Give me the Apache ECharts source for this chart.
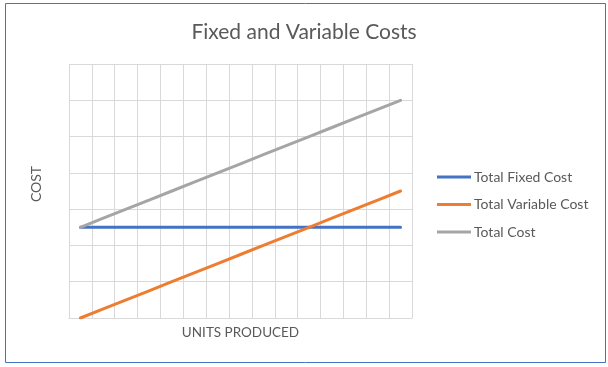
<!DOCTYPE html>
<html><head><meta charset="utf-8">
<script src="https://cdn.jsdelivr.net/npm/echarts@6/dist/echarts.min.js"></script>
<style>html,body{margin:0;padding:0;background:#fff}#c{width:608px;height:367px}</style>
</head><body><div id="c"></div>
<script>
const categories = ['1','2','3','4','5','6','7','8','9','10','11','12','13','14','15'];
const totalFixedCost = [2.5,2.5,2.5,2.5,2.5,2.5,2.5,2.5,2.5,2.5,2.5,2.5,2.5,2.5,2.5];
const totalVariableCost = [0,0.25,0.5,0.75,1,1.25,1.5,1.75,2,2.25,2.5,2.75,3,3.25,3.5];
const totalCost = [2.5,2.75,3,3.25,3.5,3.75,4,4.25,4.5,4.75,5,5.25,5.5,5.75,6];
const seriesNames = ['Total Fixed Cost','Total Variable Cost','Total Cost'];
const colors = ['#4472C4','#ED7D31','#A5A5A5'];
const font = 'Lato, "Open Sans", sans-serif';
const chart = echarts.init(document.getElementById('c'), null, {renderer:'canvas'});
const mk = (name, data, color) => ({
  name, type:'line', data, symbol:'none', smooth:false,
  lineStyle:{color, width:3, cap:'round'}, itemStyle:{color}
});
chart.setOption({
  animation:false,
  color: colors,
  title:{text:'Fixed and Variable Costs', left:'center', top:17,
    textStyle:{fontFamily:font, fontSize:21, fontWeight:'normal', color:'#595959'}},
  graphic:[{type:'rect', shape:{x:5.5,y:3.5,width:600,height:359},
    style:{fill:'none', stroke:'#4472C4', lineWidth:1}}],
  legend:{orient:'vertical', left:437, top:170, padding:0, icon:'rect', itemWidth:34, itemHeight:3,
    itemGap:13.5,
    textStyle:{fontFamily:font, fontSize:14, color:'#595959', padding:[0,0,0,-2]},
    data:seriesNames},
  grid:{left:69, right:196, top:64, bottom:49},
  xAxis:{type:'category', data:categories, boundaryGap:true,
    name:'UNITS PRODUCED', nameLocation:'middle', nameGap:8,
    nameTextStyle:{fontFamily:font, fontSize:13.5, color:'#595959'},
    axisLine:{show:true, lineStyle:{color:'#D9D9D9'}}, axisTick:{show:false}, axisLabel:{show:false},
    splitLine:{show:true, lineStyle:{color:'#D9D9D9', width:1}}},
  yAxis:{type:'value', min:0, max:7, interval:1,
    name:'COST', nameLocation:'middle', nameGap:26,
    nameTextStyle:{fontFamily:font, fontSize:14, color:'#595959', padding:[0,0,0,14]},
    axisLine:{show:false}, axisTick:{show:false}, axisLabel:{show:false},
    splitLine:{show:true, lineStyle:{color:'#D9D9D9', width:1}}},
  series:[mk(seriesNames[0], totalFixedCost, colors[0]), mk(seriesNames[1], totalVariableCost, colors[1]), mk(seriesNames[2], totalCost, colors[2])]
});
</script></body></html>
